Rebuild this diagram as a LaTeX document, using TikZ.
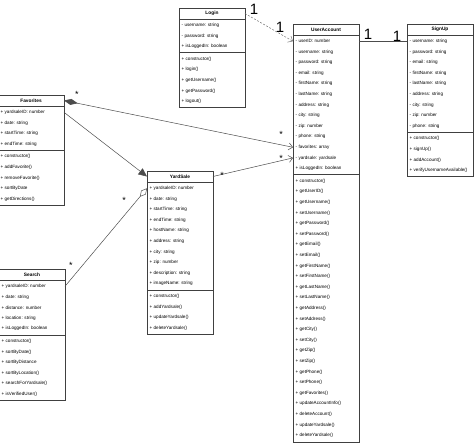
\documentclass[tikz,border=0pt]{standalone}
\usepackage{fontspec}
\setmainfont{Liberation Sans}
\usetikzlibrary{arrows.meta}
\tikzset{
  classbox/.style={draw=black!75, line width=0.6pt, inner sep=0pt, outer sep=0pt, rectangle, minimum width=66pt, anchor=north west},
  ctitle/.style={font=\fontsize{4.8}{5}\selectfont\bfseries, inner sep=0pt},
  crow/.style={font=\fontsize{4.6}{5}\selectfont, inner sep=0pt, anchor=west},
  sepline/.style={draw=black!75, line width=0.6pt},
  mult/.style={font=\fontsize{15}{15}\selectfont, inner sep=0pt},
  starlbl/.style={font=\fontsize{9}{9}\selectfont, inner sep=0pt},
  assoc/.style={draw=black!70, line width=0.5pt},
  openhead/.style={-{Straight Barb[length=4pt,width=7pt]}}
}
% name, x, ytop, title, attrs, nattrs, methods, nmethods
\newcommand{\umlclass}[8]{%
  \pgfmathsetmacro\clsSepA{#3+11}%
  \pgfmathsetmacro\clsSepB{\clsSepA+#6*10.6+2}%
  \pgfmathsetmacro\clsBot{\clsSepB+#8*10.6+2}%
  \pgfmathsetmacro\clsH{\clsBot-#3}%
  \node[classbox, minimum height=\clsH pt] (#1) at (#2,#3) {};
  \node[ctitle] (#1-title) at (#2+33,#3+5.5) {#4};
  \draw[sepline] (#1.west |- 0,\clsSepA) -- (#1.east |- 0,\clsSepA);
  \draw[sepline] (#1.west |- 0,\clsSepB) -- (#1.east |- 0,\clsSepB);
  \foreach \t [count=\i] in {#5} {\node[crow] (#1-a\i) at (#2+2.5,\clsSepA+1+10.6*\i-5.3) {\t};}
  \foreach \t [count=\i] in {#7} {\node[crow] (#1-m\i) at (#2+2.5,\clsSepB+1+10.6*\i-5.3) {\t};}
}
\begin{document}
\begin{tikzpicture}[x=1pt,y=-1pt]
\useasboundingbox (0,0) rectangle (474,443);

\umlclass{login}{179}{8}{Login}
  {- username: string, - password: string, + isLoggedIn: boolean}{3}
  {+ constructor(), + login(), + getUsername(), + getPassword(), + logout()}{5}

\umlclass{ua}{293}{24}{UserAccount}
  {- userID: number, - username: string, - password: string, - email: string, - firstName: string, - lastName: string, - address: string, - city: string, - zip: number, - phone: string, - favorites: array, - yardsale: yardsale, + isLoggedIn: boolean}{13}
  {+ constructor(), + getUserID(), + getUsername(), + setUsername(), + getPassword(), + setPassword(), + getEmail(), + setEmail(), + getFirstName(), + setFirstName(), + getLastName(), + setLastName(), + getAddress(), + setAddress(), + getCity(), + setCity(), + getZip(), + setZip(), + getPhone(), + setPhone(), + getFavorites(), + updateAccountInfo(), + deleteAccount(), + updateYardsale(), + deleteYardsale()}{25}

\umlclass{su}{407}{24}{SignUp}
  {- username: string, - password: string, - email: string, - firstName: string, - lastName: string, - address: string, - city: string, - zip: number, - phone: string}{9}
  {+ constructor(), + signUp(), + addAccount(), + verifyUsernameAvailable()}{4}

\umlclass{fav}{-2}{95}{Favorites}
  {+ yardsaleID: number, + date: string, + startTime: string, + endTime: string}{4}
  {+ constructor(), + addFavorite(), + removeFavorite(), + sortByDate, + getDirections()}{5}

\umlclass{ys}{147}{171}{YardSale}
  {+ yardsaleID: number, + date: string, + startTime: string, + endTime: string, + hostName: string, + address: string, + city: string, + zip: number, + description: string, + imageName: string}{10}
  {+ constructor(), + addYardsale(), + updateYardsale(), + deleteYardsale()}{4}

\umlclass{se}{-1}{269}{Search}
  {+ yardsaleID: number, + date: string, + distance: number, + location: string, + isLoggedIn: boolean}{5}
  {+ constructor(), + sortByDate(), + sortByDistance, + sortByLocation(), + searchForYardsale(), + isVerifiedUser()}{6}

% connectors
\draw[assoc, draw=black!55, dash pattern=on 2pt off 1.5pt, openhead] (login.east |- login-title) -- (ua.west |- ua-a1);
\draw[assoc] (ua.east |- ua-a1) -- (su.west |- su-a1);
\draw[assoc, {Diamond[length=14pt,width=6pt]}-{Straight Barb[length=4pt,width=7pt]}] (fav.east |- fav-title) -- (ua.west |- ua-a11);
\draw[assoc, -{Triangle[length=8.5pt,width=7.5pt]}] (fav.east |- fav-a1) -- (ys.west |- ys-title);
\draw[assoc, openhead] (ys.east |- ys-title) -- (ua.west |- ua-a12);
\draw[assoc, -{Diamond[open,length=11pt,width=6pt]}] (se.east |- se-a1) -- (ys.west |- ys-a1);

% multiplicities
\node[mult] (m1) at (254,9) {1};
\node[mult] (m2) at (280,27) {1};
\node[mult] (m3) at (368,34) {1};
\node[mult] (m4) at (397,36) {1};
\node[starlbl] (s1) at (77,94) {*};
\node[starlbl] (s2) at (281,134) {*};
\node[starlbl] (s3) at (222,175) {*};
\node[starlbl] (s4) at (281,158) {*};
\node[starlbl] (s5) at (124,200) {*};
\node[starlbl] (s6) at (71,265) {*};
\end{tikzpicture}
\end{document}
